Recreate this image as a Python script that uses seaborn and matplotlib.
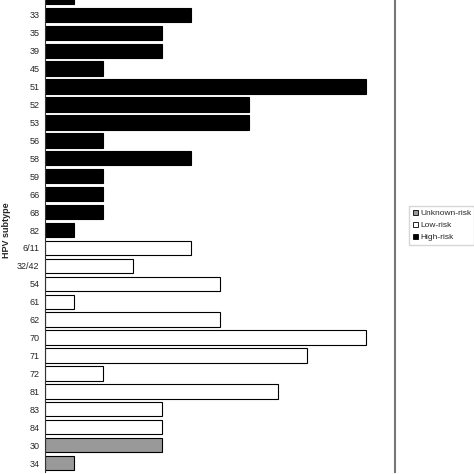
import matplotlib
matplotlib.use("Agg")
import matplotlib.pyplot as plt
import seaborn as sns
import pandas as pd
from matplotlib.patches import Patch

subtypes = ["31","33","35","39","45","51","52","53","56","58","59","66","68","82",
            "6/11","32/42","54","61","62","70","71","72","81","83","84","30","34"]
counts = [1,5,4,4,2,11,7,7,2,5,2,2,2,1,
          5,3,6,1,6,11,9,2,8,4,4,4,1]
risk = ["High-risk"]*14 + ["Low-risk"]*11 + ["Unknown-risk"]*2

df = pd.DataFrame({"subtype": subtypes, "count": counts, "risk": risk})
palette = {"High-risk": "#000000", "Low-risk": "#ffffff", "Unknown-risk": "#999999"}

sns.set_style("white")
plt.rcParams['font.family'] = ['Liberation Sans', 'DejaVu Sans']
fig = plt.figure(figsize=(4.74, 4.74), dpi=100)
ax = fig.add_axes([45/474, 2/474, 350/474, 484/474])
sns.barplot(data=df, y="subtype", x="count", hue="risk", palette=palette,
            dodge=False, width=0.8, edgecolor="black", linewidth=0.8,
            order=subtypes, ax=ax, legend=False)
ax.set_xlim(0, 12)
ax.set_ylim(26.5, -0.5)
ax.set_xlabel("")
ax.set_ylabel("HPV subtype", fontsize=6.5, fontweight="bold")
ax.tick_params(axis="y", labelsize=6.5, length=0, pad=4)
ax.set_yticks(range(len(subtypes)))
ax.set_yticklabels([""] + subtypes[1:])
ax.set_xticks([])
for s in ["left", "right"]:
    ax.spines[s].set_visible(True)
    ax.spines[s].set_color("#333333")
ax.spines["right"].set_color("#777777")
ax.spines["right"].set_linewidth(1.5)
ax.spines["top"].set_visible(False)
ax.spines["bottom"].set_visible(False)

handles = [Patch(facecolor=palette[k], edgecolor="black", linewidth=0.6, label=k)
           for k in ["Unknown-risk", "Low-risk", "High-risk"]]
fig.legend(handles=handles, loc="upper left", bbox_to_anchor=(405/474, 1-202/474),
           fontsize=6, frameon=True, fancybox=False, edgecolor="#cccccc",
           handlelength=0.7, handleheight=0.7, handletextpad=0.2, labelspacing=0.5,
           borderpad=0.4)
fig.savefig("out.png", dpi=100)
